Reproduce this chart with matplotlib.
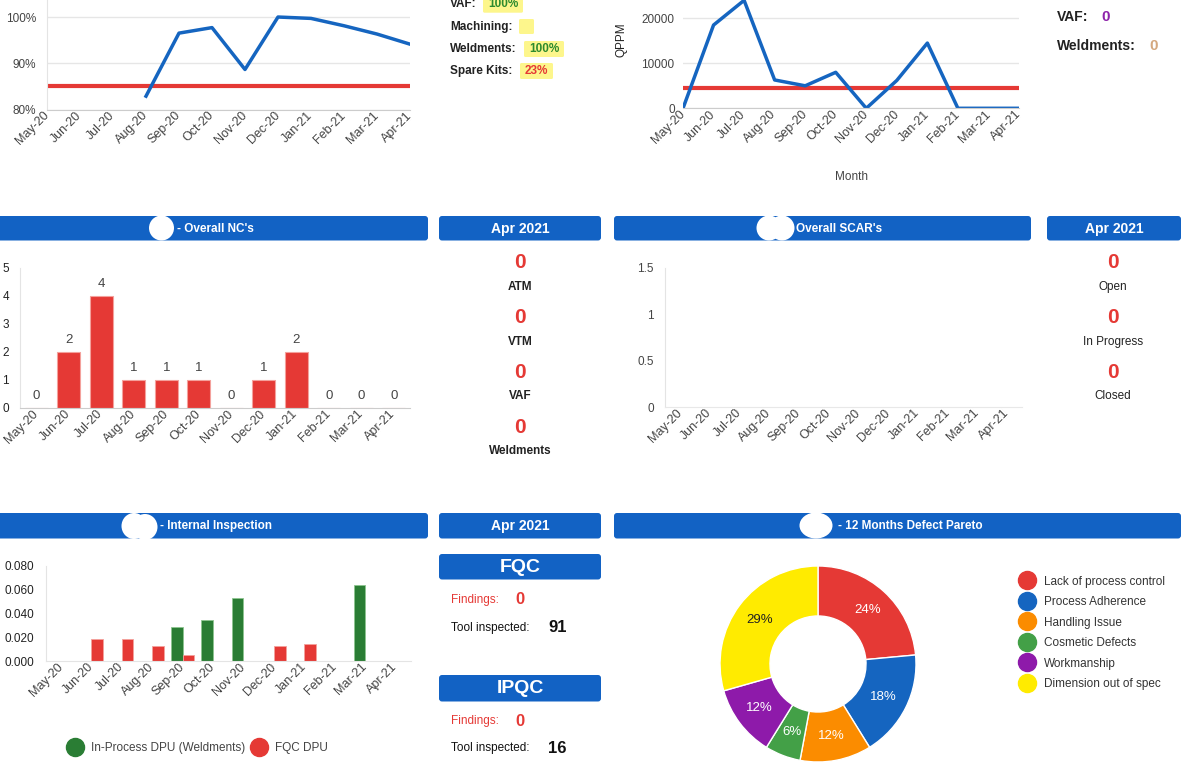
import numpy as np
import matplotlib
matplotlib.use('Agg')
import matplotlib.pyplot as plt
from matplotlib.patches import FancyBboxPatch, Ellipse
from matplotlib.lines import Line2D

plt.rcParams['font.family'] = ['Liberation Sans', 'DejaVu Sans']

W, H = 1191, 784

months = ['May-20', 'Jun-20', 'Jul-20', 'Aug-20', 'Sep-20', 'Oct-20',
          'Nov-20', 'Dec-20', 'Jan-21', 'Feb-21', 'Mar-21', 'Apr-21']

# top left - % line (no data before Aug-20)
eff_pct = [np.nan, np.nan, np.nan, 82.9, 96.6, 97.8, 88.7, 100.1, 99.8, 98.2, 96.4, 94.2]
eff_target = 85

# top right - QPPM
qppm = [0, 18500, 24000, 6300, 5000, 8000, 0, 6200, 14500, 0, 0, 0]
qppm_target = 4500

# overall NC's / SCAR's
nc_counts = [0, 2, 4, 1, 1, 1, 0, 1, 2, 0, 0, 0]
scar_counts = [0, 0, 0, 0, 0, 0, 0, 0, 0, 0, 0, 0]

# internal inspection DPU
dpu_weld = [0, 0, 0, 0, 0.0289, 0.0345, 0.0528, 0, 0, 0, 0.064, 0]
dpu_fqc = [0, 0.0183, 0.0183, 0.0126, 0.005, 0, 0, 0.0126, 0.0143, 0, 0, 0]

# defect pareto
pareto_labels = ['Lack of process control', 'Process Adherence', 'Handling Issue',
                 'Cosmetic Defects', 'Workmanship', 'Dimension out of spec']
pareto_counts = [4, 3, 2, 1, 2, 5]
pareto_colors = ['#e53935', '#1565c0', '#fb8c00', '#43a047', '#8e1aaa', '#ffeb00']

# text tiles
yield_rows = [('VAF:', '100%'), ('Machining:', ''), ('Weldments:', '100%'), ('Spare Kits:', '23%')]
nc_month = [('ATM', 0), ('VTM', 0), ('VAF', 0), ('Weldments', 0)]
scar_month = [('Open', 0), ('In Progress', 0), ('Closed', 0)]
fqc_findings, fqc_tools = 0, 91
ipqc_findings, ipqc_tools = 0, 16

BLUE = '#1262c4'
RED = '#e53935'
TXT = '#444444'


def px(x, y, w, h):
    return [x / W, 1 - (y + h) / H, w / W, h / H]


def style(ax, grid=False):
    for s in ['top', 'right']:
        ax.spines[s].set_visible(False)
    ax.spines['left'].set_color('#e4e4e4')
    ax.spines['bottom'].set_color('#cccccc')
    ax.tick_params(length=0, labelsize=8.5, labelcolor=TXT)
    ax.tick_params(axis='x', pad=3, labelsize=9)
    if grid:
        ax.yaxis.grid(True, color='#e6e6e6', lw=1)
        ax.set_axisbelow(True)
    ax.set_xticks(range(12))
    ax.set_xticklabels(months, rotation=45, ha='right', va='center', rotation_mode='anchor')
    ax.set_facecolor('none')


fig = plt.figure(figsize=(W / 100, H / 100), dpi=100)

# ---- top left line
ax1 = fig.add_axes(px(47, 0, 363, 109.5))
x = np.arange(12)
ax1.plot(x, [eff_target] * 12, color=RED, lw=3)
ax1.plot(x, eff_pct, color='#1565c0', lw=2.5)
ax1.set_xlim(0, 11)
ax1.set_ylim(80, 103.8)
ax1.set_yticks([80, 90, 100])
ax1.set_yticklabels(['80%', '90%', '100%'])
style(ax1, grid=True)
ax1.tick_params(axis='y', pad=8)

# ---- top right QPPM
ax2 = fig.add_axes(px(683, 0, 336, 108.3))
ax2.plot(x, [qppm_target] * 12, color=RED, lw=3)
ax2.plot(x, qppm, color='#1565c0', lw=2.5)
ax2.set_xlim(0, 11)
ax2.set_ylim(0, 24070)
ax2.set_yticks([0, 10000, 20000])
ax2.set_yticklabels(['0', '10000', '20000'])
style(ax2, grid=True)
ax2.spines['left'].set_visible(False)
ax2.tick_params(axis='y', pad=6)
ax2.set_ylabel('QPPM', fontsize=8.5, color='#222')
ax2.yaxis.set_label_coords((628 - 683) / 336, 1 - 40 / 108.3)
ax2.set_xlabel('Month', fontsize=8.5, color=TXT)
ax2.xaxis.set_label_coords(0.5, -(177 - 108.3) / 108.3)
ax2.xaxis.label.set_va('center')

# ---- overall NC's
ax3 = fig.add_axes(px(20, 268, 390, 140))
bars = ax3.bar(x, nc_counts, width=0.7, color=RED, edgecolor='#f4a19c', lw=0.8)
ax3.bar_label(bars, padding=4, fontsize=9.5, color=TXT)
ax3.set_xlim(-0.5, 11.5)
ax3.set_ylim(0, 5)
ax3.set_yticks(range(6))
style(ax3)
ax3.tick_params(axis='y', labelcolor='#222', pad=8)

# ---- overall SCAR's
ax4 = fig.add_axes(px(665, 268, 357, 139))
ax4.bar(x, scar_counts, width=0.7, color=RED)
ax4.set_xlim(-0.5, 11.5)
ax4.set_ylim(0, 1.5)
ax4.set_yticks([0, 0.5, 1, 1.5])
ax4.set_yticklabels(['0', '0.5', '1', '1.5'])
style(ax4)
ax4.spines['bottom'].set_color('#e8e8e8')
ax4.tick_params(axis='y', pad=8)

# ---- internal inspection
ax5 = fig.add_axes(px(45.5, 566, 365.5, 95))
ax5.bar(x - 0.19, dpu_weld, width=0.38, color='#2a7d34', edgecolor='#8cc58f', lw=0.6)
ax5.bar(x + 0.19, dpu_fqc, width=0.38, color=RED, edgecolor='#f4a19c', lw=0.6)
ax5.set_xlim(-0.5, 11.5)
ax5.set_ylim(0, 0.08)
ax5.set_yticks(np.arange(0, 0.0801, 0.02))
ax5.set_yticklabels(['%.3f' % v for v in np.arange(0, 0.0801, 0.02)])
style(ax5)
ax5.tick_params(axis='y', labelcolor='#222', pad=8, labelsize=8.5)
ax5.spines['bottom'].set_color('#e4e4e4')

h5 = [Line2D([], [], marker='o', ls='', ms=13, color='#2a7d34'),
      Line2D([], [], marker='o', ls='', ms=13, color=RED)]
fig.legend(h5, ['In-Process DPU (Weldments)', 'FQC DPU'], loc='center',
           bbox_to_anchor=(198 / W, 1 - 748 / H), ncol=2, frameon=False,
           fontsize=8.5, handletextpad=0.75, columnspacing=0.6, handlelength=1.2,
           labelcolor=TXT)

# ---- pareto donut
axd = fig.add_axes(px(720, 566, 196, 196))
wedges, _, autotexts = axd.pie(pareto_counts, colors=pareto_colors, startangle=90,
                               counterclock=False, radius=1,
                               wedgeprops=dict(width=0.51, edgecolor='white', linewidth=1),
                               autopct='%.0f%%', pctdistance=0.745,
                               textprops=dict(fontsize=9.5))
for t, c in zip(autotexts, pareto_colors):
    t.set_color('#222' if c == '#ffeb00' else 'white')
axd.set_xlim(-1, 1)
axd.set_ylim(-1, 1)

hp = [Line2D([], [], marker='o', ls='', ms=13, color=c) for c in pareto_colors]
fig.legend(hp, pareto_labels, loc='upper left', bbox_to_anchor=(1009 / W, 1 - 565 / H),
           frameon=False, fontsize=8.5, handletextpad=0.85, handlelength=1.2,
           labelspacing=0.72, labelcolor='#333')

# ---- overlay for headers and text tiles
ov = fig.add_axes([0, 0, 1, 1])
ov.set_xlim(0, W)
ov.set_ylim(H, 0)
ov.axis('off')


def header(x0, y0, w, h, label, tx=None, fs=8.5):
    ov.add_patch(FancyBboxPatch((x0, y0), w, h, boxstyle='round,pad=0,rounding_size=3',
                                fc=BLUE, ec='none'))
    if tx is None:
        ov.text(x0 + w / 2, y0 + h / 2 + 0.5, label, ha='center', va='center',
                color='white', fontsize=fs, fontweight='bold')
    else:
        ov.text(tx, y0 + h / 2 + 0.5, label, ha='left', va='center',
                color='white', fontsize=fs, fontweight='bold')


def blob(cx, cy, w, h):
    ov.add_patch(Ellipse((cx, cy), w, h, fc='white', ec='none'))


header(-5, 216, 433, 24.5, "- Overall NC's", tx=177)
blob(161.5, 228, 25, 25)
header(439, 216, 162, 24.5, 'Apr 2021', fs=10)
header(614, 216, 417, 24.5, "Overall SCAR's", tx=796)
blob(769, 228, 25, 25)
blob(782, 228, 25, 25)
header(1047, 216, 134, 24.5, 'Apr 2021', fs=10)

header(-5, 513, 433, 25.5, '- Internal Inspection', tx=160)
blob(134, 526, 25, 26)
blob(145, 527, 25, 26)
header(439, 513, 162, 25.5, 'Apr 2021', fs=10)
header(614, 513, 567, 25.5, '- 12 Months Defect Pareto', tx=838)
blob(816, 525.5, 33, 26)
header(439, 554, 162, 25.5, 'FQC', fs=14)
header(439, 675, 162, 26.5, 'IPQC', fs=14)

# yield tiles (top middle)
box_x = [(483, 523), (519, 534), (524, 564), (520, 553)]
box_y = [(-3, 12.7), (19, 34), (41, 57), (63, 79)]
row_y = [4, 27, 49, 71]
val_col = ['#2e8b2e', '#2e8b2e', '#2e8b2e', RED]
for (lab, val), (bx0, bx1), (by0, by1), ry, vc in zip(yield_rows, box_x, box_y, row_y, val_col):
    ov.text(450, ry, lab, ha='left', va='center', fontsize=8.5, fontweight='bold', color='#222')
    ov.add_patch(FancyBboxPatch((bx0, by0), bx1 - bx0, by1 - by0,
                                boxstyle='round,pad=0,rounding_size=1.5', fc='#fdf68c', ec='none'))
    ov.text((bx0 + bx1) / 2, ry, val, ha='center', va='center', fontsize=8.5,
            fontweight='bold', color=vc)

# top right counts
ov.text(1057, 17, 'VAF:', ha='left', va='center', fontsize=10, fontweight='bold', color='#222')
ov.text(1105.5, 17, '0', ha='center', va='center', fontsize=11, fontweight='bold', color='#8e24aa')
ov.text(1057, 46, 'Weldments:', ha='left', va='center', fontsize=10, fontweight='bold', color='#222')
ov.text(1154, 46, '0', ha='center', va='center', fontsize=11, fontweight='bold', color='#d4a87f')

# NC month tile
for i, (lab, val) in enumerate(nc_month):
    yy = 263 + i * 54.7
    ov.text(520, yy, str(val), ha='center', va='center', fontsize=15, fontweight='bold', color=RED)
    ov.text(520, yy + 24, lab, ha='center', va='center', fontsize=8.5, fontweight='bold', color='#222')

# SCAR month tile
for i, (lab, val) in enumerate(scar_month):
    yy = 263 + i * 54.5
    ov.text(1113, yy, str(val), ha='center', va='center', fontsize=15, fontweight='bold', color=RED)
    ov.text(1113, yy + 24, lab, ha='center', va='center', fontsize=8.5, color='#222')

# FQC / IPQC tiles
for yf, (fnd, tools) in zip([600, 721], [(fqc_findings, fqc_tools), (ipqc_findings, ipqc_tools)]):
    ov.text(451, yf, 'Findings:', ha='left', va='center', fontsize=8.5, color=RED)
    ov.text(519.5, yf, str(fnd), ha='center', va='center', fontsize=12, fontweight='bold', color=RED)
    ov.text(451, yf + 27.5, 'Tool inspected:', ha='left', va='center', fontsize=8.5, color='#111')
    ov.text(557.5, yf + 27.5, str(tools), ha='center', va='center', fontsize=12,
            fontweight='bold', color='#111')

fig.savefig('out.png', dpi=100, facecolor='white')
